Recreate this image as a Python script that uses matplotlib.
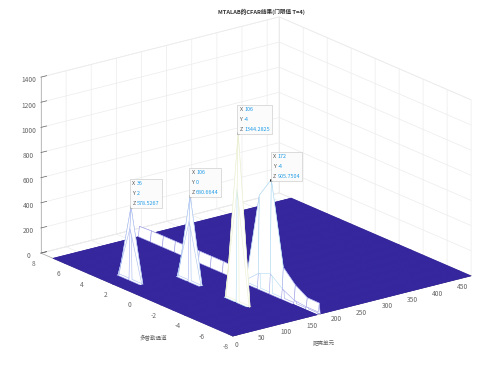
import numpy as np
import matplotlib
matplotlib.use("Agg")
import matplotlib.pyplot as plt
from matplotlib.colors import LinearSegmentedColormap
from matplotlib.offsetbox import AnnotationBbox, HPacker, TextArea
from mpl_toolkits.mplot3d import proj3d

plt.rcParams['font.family'] = ['Noto Sans CJK SC', 'DejaVu Sans']
plt.rcParams['axes.unicode_minus'] = False
plt.rcParams['grid.color'] = '#ececec'
plt.rcParams['grid.linewidth'] = 0.5

title = "MTALAB的CFAR结果(门限值 T=4)"
xlabel = "距离单元"
ylabel = "多普勒通道"
xticks = [0, 50, 100, 150, 200, 250, 300, 350, 400, 450]
yticks = [-8, -6, -4, -2, 0, 2, 4, 6, 8]
zticks = [0, 200, 400, 600, 800, 1000, 1200, 1400]

# range and doppler bins
range_bins = np.arange(0, 476, 2)
doppler_bins = np.arange(-8, 8)

# isolated spikes: range bin, doppler bin, height on the row before the peak, peak
spike_x = [36, 106, 106]
spike_y = [2, 0, -4]
spike_before = [410, 480, 900]
spike_z = [578.5267, 680.6644, 1344.2825]

# the wall at range bin 172, one value per doppler bin
wall_z = [88, 90, 150, 250, 905.7504, 740, 85, 85, 90, 90, 90, 85, 85, 85, 85, 80]
wall_before = [20, 20, 30, 80, 160, 120, 30, 0, 0, 0, 0, 0, 0, 0, 0, 0]
wall_x = 172

tip_x = [36, 106, 106, 172]
tip_y = [2, 0, -4, -4]
tip_z = ["578.5267", "680.6644", "1344.2825", "905.7504"]
tip_val = [578.5267, 680.6644, 1344.2825, 905.7504]

Z = np.zeros((len(doppler_bins), len(range_bins)))
for x, y, before, z in zip(spike_x, spike_y, spike_before, spike_z):
    i = list(doppler_bins).index(y)
    j = list(range_bins).index(x)
    Z[i, j] = z
    Z[i, j - 1] = before
j = list(range_bins).index(wall_x)
Z[:, j] = wall_z
Z[:, j - 1] = wall_before

X, Y = np.meshgrid(range_bins, doppler_bins)

fig = plt.figure(figsize=(4.82, 3.75), dpi=100)
ax = fig.add_axes([19.8 / 482, -37.7 / 375, 460 / 482, 460 / 375], projection='3d')
ax.patch.set_alpha(0)
ax.set_proj_type('ortho')
ax.view_init(elev=19.3, azim=-127.4)
ax.set_box_aspect((300, 316, 186.5))
ax.set_xlim(0, 474, view_margin=0)
ax.set_ylim(-8, 8, view_margin=0)
ax.set_zlim(0, 1400, view_margin=0)
ax.computed_zorder = False

# mesh look: white faces where the surface rises, edges coloured by height
floor_color = '#35269d'
edge_map = LinearSegmentedColormap.from_list(
    "edges", ['#9a9ae4', '#a4aeee', '#b0ddf2', '#f2f2cc'])
cell_top = np.maximum.reduce([Z[:-1, :-1], Z[1:, :-1], Z[:-1, 1:], Z[1:, 1:]])
face = np.empty(cell_top.shape + (4,))
face[:] = matplotlib.colors.to_rgba('white')
face[cell_top == 0] = matplotlib.colors.to_rgba(floor_color)
edge = edge_map(cell_top / 1400)
edge[cell_top == 0] = matplotlib.colors.to_rgba(floor_color)

surf = ax.plot_surface(X, Y, Z, facecolors=face, rstride=1, cstride=1,
                       shade=False, linewidth=0.4, antialiased=True, zorder=2)
surf.set_edgecolors(edge.reshape(-1, 4))

for axis in (ax.xaxis, ax.yaxis, ax.zaxis):
    axis.pane.set_facecolor((1, 1, 1, 0))
    axis.pane.set_edgecolor('#d6d6d6')
    axis.pane.set_linewidth(0.5)
    axis.line.set_color('#a8a8a8')
    axis.line.set_linewidth(0.5)
    axis._axinfo['tick']['inward_factor'] = 0
    axis._axinfo['tick']['outward_factor'] = 0.3
    axis._axinfo['tick']['linewidth'] = {True: 0.5, False: 0.4}

ax.set_xticks(xticks)
ax.set_yticks(yticks)
ax.set_zticks(zticks)
ax.tick_params(labelsize=4.8, colors='#666666', pad=-3)
ax.tick_params(axis='x', pad=-5)

# data tips
proj = ax.get_proj()
ax.plot(tip_x, tip_y, tip_val, ls='none', marker='o', ms=1.2, color='#222222', zorder=5)
for x, y, zs, z in zip(tip_x, tip_y, tip_z, tip_val):
    px, py, _ = proj3d.proj_transform(x, y, z, proj)
    keys = TextArea("X\nY\nZ", textprops=dict(color='#555555', fontsize=3.9, linespacing=2.25))
    vals = TextArea(f"{x}\n{y}\n{zs}", textprops=dict(color='#1e9be6', fontsize=3.9, linespacing=2.25))
    box = HPacker(children=[keys, vals], pad=0, sep=1, align='top')
    tip = AnnotationBbox(box, (px, py), xybox=(1, 0.5), boxcoords='offset points',
                         box_alignment=(0, 0), pad=0.15, zorder=6,
                         bboxprops=dict(facecolor='#fbfbfb', edgecolor='#cfcfcf', linewidth=0.5))
    ax.add_artist(tip)

fig.text(261 / 482, 1 - 12 / 375, title, ha='center', va='center', fontsize=4.1, color='#333333',
         fontweight='bold')
fig.text(153 / 482, 1 - 338 / 375, ylabel, ha='center', va='center', fontsize=4, color='#666666')
fig.text(324 / 482, 1 - 343 / 375, xlabel, ha='center', va='center', fontsize=4, color='#666666')

fig.savefig("out.png", dpi=100)
